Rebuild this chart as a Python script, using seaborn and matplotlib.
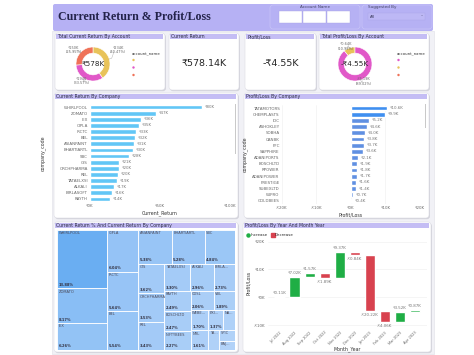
import matplotlib
matplotlib.use("Agg")
import matplotlib.pyplot as plt
from matplotlib.patches import FancyBboxPatch, Rectangle
from matplotlib.lines import Line2D
import matplotlib.colors as mcolors
import seaborn as sns
import pandas as pd
import numpy as np

# ---------------- data ----------------
account_colors = ["#e8c35a", "#e158c8", "#ef7258"]
account_return = [234.0, 194.1, 150.04]          # ₹K, current return per account
account_pl = [0.64, -5.19]                        # ₹K, profit/loss per account
account_pl_colors = ["#e8c35a", "#e158c8"]

companies = ["WHIRLPOOL", "ZOMATO", "IEX", "CIPLA", "IRCTC", "BEL", "ASIANPAINT",
             "BHARTIARTL", "SBC", "GIS", "ORCHPHARMA", "REL", "TATAELXSI", "ALKALI",
             "BIRLASOFT", "RAYTH", "BOSCHLTD", "NIFTYBEES", "CDSL", "VBL",
             "WEBELSOLAR", "NRL", "EXIDEIND", "NAUKRI", "TATAPOWER", "SPIC", "BAJAJCON"]
current_return = [80.2, 47.2, 36.2, 34.9, 32.6, 32.0, 31.1, 30.5, 28.0, 20.9, 20.4,
                  19.8, 19.1, 17.1, 15.8, 14.4, 14.3, 13.1, 11.9, 10.9, 9.8, 9.3,
                  7.9, 6.5, 5.8, 4.6, 3.7]

pl_companies = ["TATAMOTORS", "CHEMPLASTS", "IOC", "ASHOKLEY", "SOBHA", "CANBK", "PFC",
                "SAPPHIRE", "ADANIPORTS", "BOSCHLTD", "RPOWER", "ADANIPOWER",
                "PRESTIGE", "SUBEXLTD", "WIPRO", "GOLDBEES"]
pl_values = [10.6, 9.9, 5.2, 4.6, 4.0, 3.8, 3.7, 3.6, 2.1, 1.9, 1.8, 1.7, 1.6, 1.4, 0.7, 0.4]

months = ["Jul 2022", "Aug 2022", "Sep 2022", "Oct 2022", "Nov 2022", "Dec 2022",
          "Jan 2023", "Feb 2023", "Mar 2023", "Apr 2023"]
pl_month = [0.11, 7.02, 1.57, -1.89, 9.37, -0.84, -20.22, -4.06, 3.52, 0.87]

# ---------------- figure ----------------
sns.set_theme(style="white")
plt.rcParams["font.family"] = ["DejaVu Sans"]
W, H = 474, 355
fig = plt.figure(figsize=(W / 100, H / 100), dpi=100)
fig.patch.set_facecolor("white")

bg = fig.add_axes([0, 0, 1, 1])
bg.set_xlim(0, W)
bg.set_ylim(H, 0)
bg.axis("off")


def add_ax(x0, y0, x1, y1):
    ax = fig.add_axes([x0 / W, 1 - y1 / H, (x1 - x0) / W, (y1 - y0) / H])
    ax.patch.set_alpha(0)
    return ax


def card(x0, y0, x1, y1, title):
    bg.add_patch(FancyBboxPatch((x0 + 1, y0 + 1.2), x1 - x0, y1 - y0,
                                boxstyle="round,pad=0,rounding_size=3",
                                fc="#c9c9d2", ec="none", alpha=0.7, zorder=1))
    bg.add_patch(FancyBboxPatch((x0, y0), x1 - x0, y1 - y0,
                                boxstyle="round,pad=0,rounding_size=3",
                                fc="white", ec="#dcdce4", lw=0.4, zorder=2))
    bg.add_patch(Rectangle((x0 + 1.5, y0 + 1.2), x1 - x0 - 3, 5,
                           fc="#c4bdf4", ec="none", zorder=3))
    bg.text(x0 + 2.5, y0 + 3.8, title, fontsize=3.3, color="#2b2b45",
            va="center", ha="left", zorder=4)


# dashboard backdrop
bg.add_patch(Rectangle((52, 31), 382, 323, fc="#f1f1f6", ec="#e0e0e8", lw=0.4, zorder=0))

# header
bg.add_patch(FancyBboxPatch((53, 4), 380, 27, boxstyle="round,pad=0,rounding_size=2",
                            fc="#b6b1f4", ec="none", zorder=1))
bg.text(58, 17.5, "Current Return & Profit/Loss", family="Liberation Serif",
        fontweight="bold", fontsize=8.6, color="#23234a", va="center", zorder=2)
bg.add_patch(FancyBboxPatch((270, 5), 90, 24, boxstyle="round,pad=0,rounding_size=3",
                            fc="none", ec="#c8c4f7", lw=0.5, zorder=2))
bg.add_patch(FancyBboxPatch((362, 5), 70, 24, boxstyle="round,pad=0,rounding_size=3",
                            fc="none", ec="#c8c4f7", lw=0.5, zorder=2))
bg.text(315, 6.8, "Account Name", fontsize=3, color="#444466", ha="center", va="center", zorder=3)
for bx in (279, 303, 327):
    bg.add_patch(Rectangle((bx, 11), 23, 12, fc="white", ec="#a9a4e6", lw=0.3, zorder=3))
bg.text(368, 7, "Suggested By", fontsize=3, color="#444466", va="center", zorder=3)
bg.add_patch(Rectangle((368, 13), 57, 7, fc="#bdb8f5", ec="#aaa5ea", lw=0.3, zorder=3))
bg.text(370, 16.5, "All", fontsize=2.8, color="#333355", va="center", zorder=4)
bg.text(422, 16.5, "\u02c5", fontsize=3, color="#555577", va="center", ha="center", zorder=4)

# cards
card(55, 33, 165, 90, "Total Current Return By Account")
card(169, 33, 239, 90, "Current Return")
card(245, 33, 316, 90, "Profit/Loss")
card(319, 33, 429, 90, "Total Profit/Loss By Account")
card(54, 93, 238, 218, "Current Return By Company")
card(244, 93, 429, 218, "Profit/Loss By Company")
card(54, 222, 238, 352, "Current Return % And Current Return By Company")
card(243, 222, 431, 352, "Profit/Loss By Year And Month Year")


def fmt_k(v, dec=2):
    s = f"\u20b9{abs(v):.{dec}f}K"
    return "-" + s if v < 0 else s


# ---- donuts ----
def donut(cx, cy, values, colors, start, ccw, center_text, legend_x, legend_colors):
    r = 17
    ax = add_ax(cx - r * 1.25, cy - r * 1.25, cx + r * 1.25, cy + r * 1.25)
    absvals = np.abs(values)
    wedges, _ = ax.pie(absvals, colors=colors, startangle=start, counterclock=ccw,
                       wedgeprops=dict(width=0.36, edgecolor="white", linewidth=0.4))
    ax.set_aspect("equal")
    ax.text(0, 0, center_text, fontsize=5.2, ha="center", va="center", color="#252525")
    tot = absvals.sum()
    for w, v, a in zip(wedges, values, absvals):
        mid = np.deg2rad((w.theta1 + w.theta2) / 2)
        x, y = np.cos(mid), np.sin(mid)
        lx, ly = 1.55 * x, 1.1 * np.sign(y) * max(abs(y), 0.75)
        ax.plot([0.95 * x, 1.15 * x, lx * 0.85], [0.95 * y, 1.15 * y, ly * 0.95],
                color="#aaaaaa", lw=0.3)
        ax.text(lx, ly, f"{fmt_k(v, 2 if abs(v) < 10 else 0)}\n({a / tot * 100:.2f}%)",
                fontsize=2.5, color="#666666", ha="center", va="center", linespacing=1.1)
    bg.text(legend_x, cy - 10, "account_name", fontsize=2.8, color="#333333", va="center", zorder=5)
    for i, c in enumerate(legend_colors):
        bg.add_patch(plt.Circle((legend_x + 1.5, cy - 4 + i * 7.5), 1.2, fc=c, ec="none", zorder=5))


donut(93, 64, account_return, account_colors, 90, False,
      f"\u20b9{sum(account_return):.0f}K", 132, account_colors)
donut(355, 64, account_pl, account_pl_colors, 90, True,
      fmt_k(sum(account_pl)), 397, ["#e158c8", "#e8c35a", "#ef7258"])

# ---- KPI cards ----
bg.text(204, 64, f"\u20b9{sum(account_return):.2f}K", fontsize=6.8, ha="center",
        va="center", color="#252525", zorder=5)
bg.text(281, 64, fmt_k(sum(account_pl)), fontsize=6.8, ha="center", va="center",
        color="#252525", zorder=5)

small = dict(fontsize=2.9, color="#777777")

# ---- Current return by company ----
df_cr = pd.DataFrame({"company_code": companies, "Current_Return": current_return})
df_cr = df_cr.sort_values("Current_Return", ascending=False)
top_cr = df_cr.head(16)
axE = add_ax(90, 104, 230, 202)
sns.barplot(data=top_cr, y="company_code", x="Current_Return", ax=axE,
            color="#62c6f6", saturation=1, width=0.76)
axE.set_xlim(0, 100)
axE.set_xticks([0, 50, 100])
axE.set_xticklabels(["\u20b90K", "\u20b950K", "\u20b9100K"])
for i, v in enumerate(top_cr["Current_Return"]):
    axE.text(v + 2, i, f"\u20b9{v:.0f}K", va="center", **small)
axE.tick_params(axis="both", length=0, labelsize=2.9, labelcolor="#666666", pad=1.5)
axE.set_xlabel("Current_Return", fontsize=3.4, color="#333333", labelpad=1.5)
axE.set_ylabel("company_code", fontsize=3.4, color="#333333", labelpad=10)
sns.despine(ax=axE, left=True, bottom=True)
bg.add_patch(Rectangle((235, 104), 1.3, 50, fc="#c9c9c9", ec="none", zorder=5))

# ---- Profit/Loss by company ----
df_pl = pd.DataFrame({"company_code": pl_companies, "Profit/Loss": pl_values})
axF = add_ax(281.7, 105, 420, 204)
pl_pal = ["#3f8ff0" if i < 2 else "#6090e2" for i in range(len(df_pl))]
sns.barplot(data=df_pl, y="company_code", x="Profit/Loss", hue="company_code",
            palette=pl_pal, legend=False, ax=axF, saturation=1, width=0.76)
axF.set_xlim(-20, 20)
axF.set_xticks([-20, -10, 0, 10, 20])
axF.set_xticklabels(["-\u20b920K", "-\u20b910K", "\u20b90K", "\u20b910K", "\u20b920K"])
axF.grid(axis="x", color="#eeeeee", lw=0.4)
axF.set_axisbelow(True)
for i, v in enumerate(df_pl["Profit/Loss"]):
    axF.text(v + 0.8, i, fmt_k(v, 1), va="center", **small)
axF.tick_params(axis="both", length=0, labelsize=2.9, labelcolor="#666666", pad=1.5)
axF.set_xlabel("Profit/Loss", fontsize=3.4, color="#333333", labelpad=1.5)
axF.set_ylabel("company_code", fontsize=3.4, color="#333333", labelpad=3)
sns.despine(ax=axF, left=True, bottom=True)
bg.add_patch(Rectangle((425, 104), 1.3, 24, fc="#c9c9c9", ec="none", zorder=5))


# ---- Treemap ----
def squarify(vals, x, y, w, h):
    rects = []
    vals = list(vals)
    while vals:
        short = min(w, h)

        def worst(r):
            s = sum(r)
            return max(max(short ** 2 * v / s ** 2, s ** 2 / (short ** 2 * v)) for v in r)

        row = [vals[0]]
        i = 1
        while i < len(vals) and worst(row + [vals[i]]) <= worst(row):
            row.append(vals[i])
            i += 1
        s = sum(row)
        if w >= h:
            cw = s / h
            yy = y
            for v in row:
                rects.append((x, yy, cw, v / cw))
                yy += v / cw
            x += cw
            w -= cw
        else:
            rh = s / w
            xx = x
            for v in row:
                rects.append((xx, y, v / rh, rh))
                xx += v / rh
            y += rh
            h -= rh
        vals = vals[i:]
    return rects


TW, TH = 178, 120
axG = add_ax(57, 229.5, 57 + TW, 229.5 + TH)
axG.set_xlim(0, TW)
axG.set_ylim(TH, 0)
axG.axis("off")
tm_vals = df_cr["Current_Return"].to_numpy()
tm_names = df_cr["company_code"].tolist()
total = tm_vals.sum()
rects = squarify(tm_vals / total * TW * TH, 0, 0, TW, TH)
lo, hi = np.array(mcolors.to_rgb("#b2d2f8")), np.array(mcolors.to_rgb("#6aaef2"))
for (x, y, w, h), name, v in zip(rects, tm_names, tm_vals):
    t = (v - tm_vals.min()) / (tm_vals.max() - tm_vals.min())
    axG.add_patch(Rectangle((x, y), w, h, fc=lo + (hi - lo) * t, ec="white", lw=0.6))
    if w > 9 and h > 7:
        maxc = int(w / 2.4)
        label = name if len(name) <= maxc else name[:max(maxc - 3, 2)] + "..."
        axG.text(x + 1.5, y + 1.5, label, fontsize=2.6, color="#4a4a5a", va="top")
    if w > 13 and h > 11:
        axG.text(x + 1.5, y + h - 1.2, f"{v / total * 100:.2f}%", fontsize=2.6,
                 color="#333344", fontweight="bold", va="bottom")

# ---- Waterfall ----
axH = add_ax(267.5, 236.1, 427, 329.2)
vals = np.array(pl_month)
ends = np.cumsum(vals)
starts = ends - vals
bottoms = np.minimum(starts, ends)
bar_colors = ["#1fae45" if v >= 0 else "#d8424f" for v in vals]
x = np.arange(len(months))
axH.bar(x, np.abs(vals), bottom=bottoms, color=bar_colors, width=0.68)
for xi, v, e in zip(x, vals, ends):
    if v >= 0:
        axH.text(xi, e + 0.7, fmt_k(v), ha="center", va="bottom", **small)
    else:
        axH.text(xi, e - 0.7, fmt_k(v), ha="center", va="top", **small)
axH.set_xlim(-0.8, len(months) - 0.2)
axH.set_ylim(-11.5, 22)
axH.set_yticks([-10, 0, 10, 20])
axH.set_yticklabels(["-\u20b910K", "\u20b90K", "\u20b910K", "\u20b920K"])
axH.set_xticks(x)
axH.set_xticklabels(months, rotation=45, ha="right", rotation_mode="anchor")
axH.grid(axis="y", color="#eeeeee", lw=0.4)
axH.set_axisbelow(True)
axH.tick_params(axis="y", length=0, labelsize=2.9, labelcolor="#666666", pad=1.5)
axH.tick_params(axis="x", length=0, labelsize=2.6, labelcolor="#666666", pad=1)
axH.set_xlabel("Month_Year", fontsize=3.4, color="#333333", labelpad=0.5)
axH.set_ylabel("Profit/Loss", fontsize=3.4, color="#333333", labelpad=2)
sns.despine(ax=axH, left=True, bottom=True)
handles = [Line2D([], [], marker="o", ls="", color="#1fae45", markersize=2.2),
           Line2D([], [], marker="s", ls="", color="#d8424f", markersize=2.2)]
fig.legend(handles, ["Increase", "Decrease"], loc="center left",
           bbox_to_anchor=(245 / W, 1 - 235 / H), ncol=2, frameon=False,
           fontsize=2.9, handletextpad=0.2, columnspacing=0.8, borderaxespad=0,
           handlelength=0.8)

fig.savefig("out.png", dpi=100)
